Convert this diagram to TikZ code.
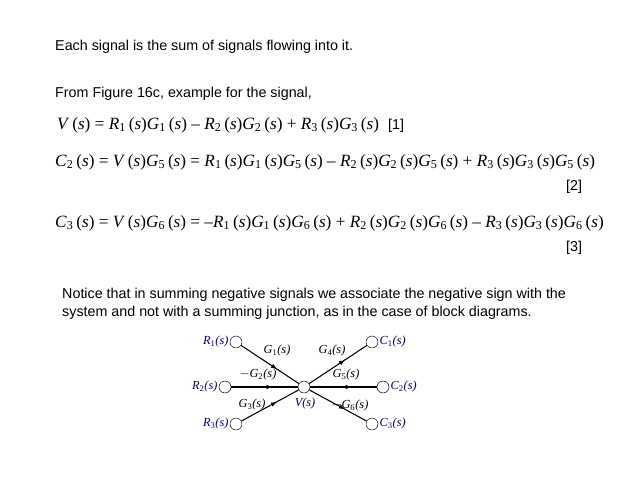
\documentclass[tikz,border=0pt]{standalone}
\usepackage{fontspec}
\setmainfont{Liberation Sans}
\newfontfamily\tms{Liberation Serif}
\usetikzlibrary{decorations.markings,arrows.meta}
\newcommand\Fx[2]{\textit{#1}\textsubscript{\upshape #2}\,(\textit{s})}
\newcommand\Fy[1]{\textit{#1}\,(\textit{s})}
\newcommand\mn{\ \textendash\ }
\newcommand\pl{\ +\ }
\newcommand\eqs{\ =\ }
\begin{document}
\begin{tikzpicture}[x=0.03cm,y=-0.03cm,
  txt/.style={anchor=base west,inner sep=0,font=\fontsize{12.2}{14}\selectfont},
  eq/.style={anchor=base west,inner sep=0,font=\tms\fontsize{14.7}{17}\selectfont},
  sn/.style={circle,draw,fill=white,minimum size=12*0.85pt,inner sep=0},
  lab/.style={text=blue!45!black,font=\tms\itshape\fontsize{10.5}{12}\selectfont,inner sep=1pt},
  br/.style={draw,line width=0.9pt,postaction={decorate},decoration={markings,mark=at position 0.62 with {\arrow{Latex[length=5pt,width=4pt]}}}}]
\useasboundingbox (0,0) rectangle (638,493);
\node[txt] (t1) at (55,50) {Each signal is the sum of signals flowing into it.};
\node[txt] (t2) at (55,97) {From Figure 16c, example for the signal,};
\node[eq] (e1) at (57,129) {\Fy{V}\eqs\Fx{R}{1}\Fx{G}{1}\mn\Fx{R}{2}\Fx{G}{2}\pl\Fx{R}{3}\Fx{G}{3}};
\node[txt] (n1) at (388,129) {[1]};
\node[eq] (e2) at (55,166) {\Fx{C}{2}\eqs\Fy{V}\Fx{G}{5}\eqs\Fx{R}{1}\Fx{G}{1}\Fx{G}{5}\mn\Fx{R}{2}\Fx{G}{2}\Fx{G}{5}\pl\Fx{R}{3}\Fx{G}{3}\Fx{G}{5}};
\node[txt] (n2) at (566,190) {[2]};
\node[eq] (e3) at (55,227) {\Fx{C}{3}\eqs\Fy{V}\Fx{G}{6}\eqs\textendash\Fx{R}{1}\Fx{G}{1}\Fx{G}{6}\pl\Fx{R}{2}\Fx{G}{2}\Fx{G}{6}\mn\Fx{R}{3}\Fx{G}{3}\Fx{G}{6}};
\node[txt] (n3) at (566,251) {[3]};
\node[txt] (t3) at (62,298) {Notice that in summing negative signals we associate the negative sign with the};
\node[txt] (t4) at (62,316) {system and not with a summing junction, as in the case of block diagrams.};
% graph
\node[sn] (V) at (304,387) {};
\node[sn] (R1) at (236,342) {};
\node[sn] (R2) at (225,387) {};
\node[sn] (R3) at (236,424) {};
\node[sn] (C1) at (372,342) {};
\node[sn] (C2) at (383,387) {};
\node[sn] (C3) at (372,424) {};
\draw[br] (R1) -- (V);
\draw[br] (R2) -- (V);
\draw[br] (R3) -- (V);
\draw[br] (V) -- (C1);
\draw[br] (V) -- (C2);
\draw[br] (V) -- (C3);
\node[lab,anchor=east] at (R1.west) {R\textsubscript{\upshape 1}(s)};
\node[lab,anchor=east] at (R2.west) {R\textsubscript{\upshape 2}(s)};
\node[lab,anchor=east] at (R3.west) {R\textsubscript{\upshape 3}(s)};
\node[lab,anchor=west] at (C1.east) {C\textsubscript{\upshape 1}(s)};
\node[lab,anchor=west] at (C2.east) {C\textsubscript{\upshape 2}(s)};
\node[lab,anchor=west] at (C3.east) {C\textsubscript{\upshape 3}(s)};
\node[lab,text=black] at (277,351) {G\textsubscript{\upshape 1}(s)};
\node[lab,text=black] at (258,375) {\upshape$-$\itshape G\textsubscript{\upshape 2}(s)};
\node[lab,text=black] at (252,405) {G\textsubscript{\upshape 3}(s)};
\node[lab,text=black] at (332,351) {G\textsubscript{\upshape 4}(s)};
\node[lab,text=black] at (346,375) {G\textsubscript{\upshape 5}(s)};
\node[lab,text=black] at (350,406) {\upshape$-$\itshape G\textsubscript{\upshape 6}(s)};
\node[lab] at (305,404) {V(s)};
\end{tikzpicture}
\end{document}
